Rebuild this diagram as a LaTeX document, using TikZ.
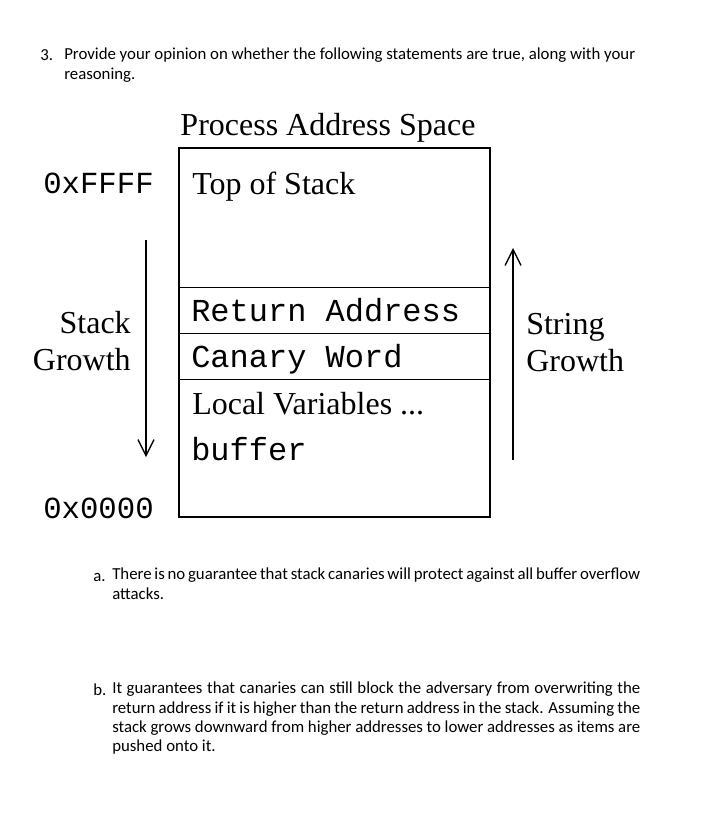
\documentclass[tikz,border=0pt]{standalone}
\usepackage{fontspec}
\setmainfont{Carlito}
\newfontfamily\tms{Liberation Serif}
\newfontfamily\crr{Liberation Mono}
\usetikzlibrary{arrows.meta}
\tikzset{
 body/.style={anchor=north west,inner sep=0pt,font=\fontsize{12.6}{14.4}\selectfont,align=justify},
 ser/.style={anchor=base west,inner sep=0pt,font=\tms\fontsize{24}{28}\selectfont},
 mono/.style={anchor=base west,inner sep=0pt,font=\crr\fontsize{24}{28}\selectfont},
 growarrow/.style={line width=1.3pt,-{Straight Barb[length=12pt,width=12pt,line width=1pt]}}
}
\begin{document}
\begin{tikzpicture}[x=0.75pt,y=-0.75pt]
\useasboundingbox (0,0) rectangle (711,820);
\node[body,anchor=base west] (n3) at (40,61) {3.};
\node[body,text width=432pt] (q) at (64,48) {Provide your opinion on whether the following statements are true, along with your\\ \hspace*{0pt}reasoning.};
\node[anchor=base,inner sep=0pt,font=\tms\fontsize{24}{28}\selectfont] (title) at (328,136) {Process Address Space};
\draw[line width=0.8pt] (179,148) rectangle (490,517);
\draw[line width=0.6pt] (179,287) -- (490,287) (179,333) -- (490,333) (179,379) -- (490,379);
\node[ser] (tos) at (192,194) {Top of Stack};
\node[mono] (ra) at (191,321) {Return Address};
\node[mono] (cw) at (191,367) {Canary Word};
\node[ser] (lv) at (192,414) {Local Variables ...};
\node[mono] (bf) at (191,460) {buffer};
\node[mono,font=\crr\fontsize{23}{27}\selectfont] (hi) at (43,193) {0xFFFF};
\node[mono,font=\crr\fontsize{23}{27}\selectfont] (lo) at (43,518) {0x0000};
\node[ser,anchor=base east] (s1) at (131,333) {Stack};
\node[ser,anchor=base east] (s2) at (131,370) {Growth};
\node[ser] (t1) at (526,334) {String};
\node[ser] (t2) at (526,371) {Growth};
\coordinate (sa) at (146,240); \coordinate (sb) at (146,457);
\coordinate (ua) at (513,460); \coordinate (ub) at (513,248);
\draw[growarrow] (sa) -- (sb);
\draw[growarrow] (ua) -- (ub);
\node[body,anchor=base west] (la) at (93,581) {a.};
\node[body,text width=396pt] (ta) at (112,568) {There is no guarantee that stack canaries will protect against all buffer overflow\\ \hspace*{0pt}attacks.};
\node[body,anchor=base west] (lb) at (93,695) {b.};
\node[body,text width=396pt] (tb) at (112,682) {It guarantees that canaries can still block the adversary from overwriting the return address if it is higher than the return address in the stack. Assuming the stack grows downward from higher addresses to lower addresses as items are pushed onto it.};
\end{tikzpicture}
\end{document}
